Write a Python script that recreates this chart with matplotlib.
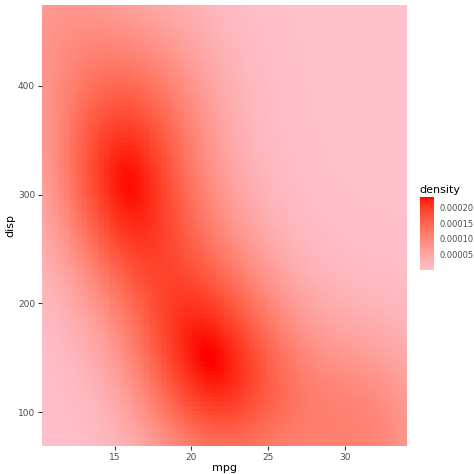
import numpy as np
import matplotlib.pyplot as plt
from matplotlib.colors import ListedColormap

# mtcars
mpg = [21, 21, 22.8, 21.4, 18.7, 18.1, 14.3, 24.4, 22.8, 19.2, 17.8, 16.4, 17.3, 15.2, 10.4, 10.4,
       14.7, 32.4, 30.4, 33.9, 21.5, 15.5, 15.2, 13.3, 19.2, 27.3, 26, 30.4, 15.8, 19.7, 15, 21.4]
disp = [160, 160, 108, 258, 360, 225, 360, 146.7, 140.8, 167.6, 167.6, 275.8, 275.8, 275.8, 472, 460,
        440, 78.7, 75.7, 71.1, 120.1, 318, 304, 350, 400, 79, 120.3, 95.1, 351, 145, 301, 121]
x_ticks = [15, 20, 25, 30]
y_ticks = [100, 200, 300, 400]
cbar_ticks = [0.00005, 0.00010, 0.00015, 0.00020]
cbar_labels = ['0.00005', '0.00010', '0.00015', '0.00020']


def bw_nrd(v):
    q1, q3 = np.percentile(v, [25, 75])
    return 4 * 1.06 * min(np.std(v, ddof=1), (q3 - q1) / 1.34) * len(v) ** (-0.2)


def kde2d(x, y, n=100):
    x, y = np.asarray(x), np.asarray(y)
    hx, hy = bw_nrd(x) / 4, bw_nrd(y) / 4
    gx = np.linspace(x.min(), x.max(), n)
    gy = np.linspace(y.min(), y.max(), n)
    ax = (gx[:, None] - x[None, :]) / hx
    ay = (gy[:, None] - y[None, :]) / hy
    kx = np.exp(-0.5 * ax ** 2) / np.sqrt(2 * np.pi)
    ky = np.exp(-0.5 * ay ** 2) / np.sqrt(2 * np.pi)
    z = ky @ kx.T / (len(x) * hx * hy)
    return gx, gy, z


# Lab interpolation like ggplot's scale_fill_gradient
M = np.array([[0.4124, 0.3576, 0.1805], [0.2126, 0.7152, 0.0722], [0.0193, 0.1192, 0.9505]])
WHITE = M.sum(axis=1)


def srgb_to_lab(c):
    c = np.asarray(c) / 255.0
    lin = np.where(c <= 0.04045, c / 12.92, ((c + 0.055) / 1.055) ** 2.4)
    t = (M @ lin) / WHITE
    f = np.where(t > (6 / 29) ** 3, np.cbrt(t), t / (3 * (6 / 29) ** 2) + 4 / 29)
    return np.array([116 * f[1] - 16, 500 * (f[0] - f[1]), 200 * (f[1] - f[2])])


def lab_to_srgb(lab):
    L, a, b = lab
    fy = (L + 16) / 116
    f = np.array([fy + a / 500, fy, fy - b / 200])
    t = np.where(f > 6 / 29, f ** 3, 3 * (6 / 29) ** 2 * (f - 4 / 29))
    lin = np.linalg.solve(M, t * WHITE)
    lin = np.clip(lin, 0, 1)
    return np.where(lin <= 0.0031308, 12.92 * lin, 1.055 * lin ** (1 / 2.4) - 0.055)


lo, hi = srgb_to_lab([255, 192, 203]), srgb_to_lab([255, 0, 0])
cmap = ListedColormap([lab_to_srgb(lo + (hi - lo) * s) for s in np.linspace(0, 1, 256)])

gx, gy, z = kde2d(mpg, disp)
dx, dy = gx[1] - gx[0], gy[1] - gy[0]

fig = plt.figure(figsize=(4.74, 4.74), dpi=100)
ax = fig.add_axes([42 / 474, 28 / 474, 365 / 474, 441 / 474])
im = ax.imshow(z, origin='lower', aspect='auto', cmap=cmap, interpolation='nearest',
               extent=[gx[0] - dx / 2, gx[-1] + dx / 2, gy[0] - dy / 2, gy[-1] + dy / 2])
ax.set_xticks(x_ticks)
ax.set_yticks(y_ticks)
for s in ax.spines.values():
    s.set_visible(False)
ax.tick_params(colors='#4d4d4d', labelsize=6.5, length=3, color='#333333', pad=2)
ax.set_xlabel('mpg', fontsize=8, labelpad=1)
ax.set_ylabel('disp', fontsize=8, labelpad=2)

cax = fig.add_axes([420 / 474, (474 - 270) / 474, 14 / 474, 73 / 474])
cb = fig.colorbar(im, cax=cax)
cb.set_ticks(cbar_ticks)
cb.set_ticklabels(cbar_labels)
cb.outline.set_visible(False)
cb.ax.tick_params(labelsize=6, length=2, colors='#4d4d4d', color='white', pad=2)
fig.text(419 / 474, 281 / 474, 'density', fontsize=8)

fig.savefig('out.png', dpi=100)
